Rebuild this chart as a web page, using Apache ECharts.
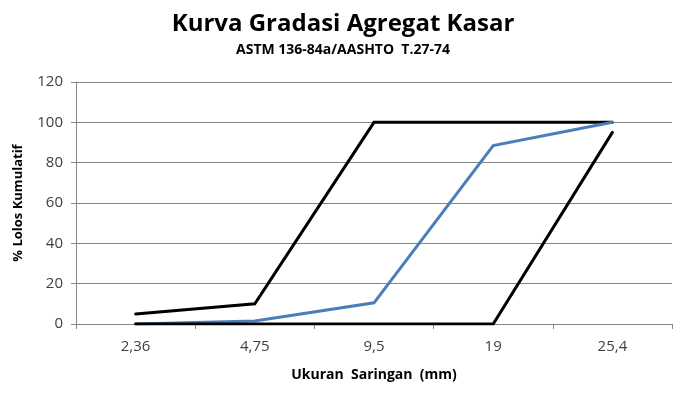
<!DOCTYPE html>
<html><head><meta charset="utf-8">
<script src="https://cdn.jsdelivr.net/npm/echarts@6/dist/echarts.min.js"></script>
<style>html,body{margin:0;padding:0;background:#fff}#c{width:686px;height:393px}</style>
</head><body><div id="c"></div>
<script>
const categories = ['2,36', '4,75', '9,5', '19', '25,4'];
const upperLimit = [5, 10, 100, 100, 100];
const passing = [0, 1.5, 10.5, 88.5, 100];
const lowerLimit = [0, 0, 0, 0, 95];
const yTicks = { min: 0, max: 120, interval: 20 };

const FONT = '"Open Sans", "Liberation Sans", sans-serif';
const chart = echarts.init(document.getElementById('c'), null, { renderer: 'canvas' });
const lineSeries = (data, color) => ({
  type: 'line', data, symbol: 'none', silent: true,
  lineStyle: { color, width: 3, cap: 'round', join: 'miter' }
});
chart.setOption({
  animation: false,
  backgroundColor: '#fff',
  title: {
    text: 'Kurva Gradasi Agregat Kasar',
    subtext: 'ASTM 136-84a/AASHTO  T.27-74',
    left: 'center', top: 7, itemGap: 7,
    textStyle: { fontFamily: FONT, fontSize: 24, fontWeight: 'bold', color: '#000' },
    subtextStyle: { fontFamily: FONT, fontSize: 14, fontWeight: 'bold', color: '#000' }
  },
  grid: { left: 76, right: 14, top: 82, bottom: 69, containLabel: false },
  xAxis: {
    type: 'category', data: categories, boundaryGap: true,
    name: 'Ukuran  Saringan  (mm)', nameLocation: 'middle', nameGap: 44,
    nameTextStyle: { fontFamily: FONT, fontSize: 14, fontWeight: 'bold', color: '#000' },
    axisLine: { lineStyle: { color: '#868686', width: 1 } },
    axisTick: { show: true, alignWithLabel: false, length: 5, lineStyle: { color: '#868686' } },
    axisLabel: { fontFamily: FONT, fontSize: 15, color: '#404040', margin: 15 },
    splitLine: { show: false }
  },
  yAxis: {
    type: 'value', min: yTicks.min, max: yTicks.max, interval: yTicks.interval,
    name: '% Lolos Kumulatif', nameLocation: 'middle', nameGap: 51, nameRotate: 90,
    nameTextStyle: { fontFamily: FONT, fontSize: 13, fontWeight: 'bold', color: '#000' },
    axisLine: { show: true, lineStyle: { color: '#868686', width: 1 } },
    axisTick: { show: true, length: 5, lineStyle: { color: '#868686' } },
    axisLabel: { fontFamily: FONT, fontSize: 15, color: '#404040', margin: 13 },
    splitLine: { lineStyle: { color: '#868686', width: 1 } }
  },
  series: [
    lineSeries(upperLimit, '#000000'),
    lineSeries(passing, '#4a7ebb'),
    lineSeries(lowerLimit, '#000000')
  ]
});
</script></body></html>
